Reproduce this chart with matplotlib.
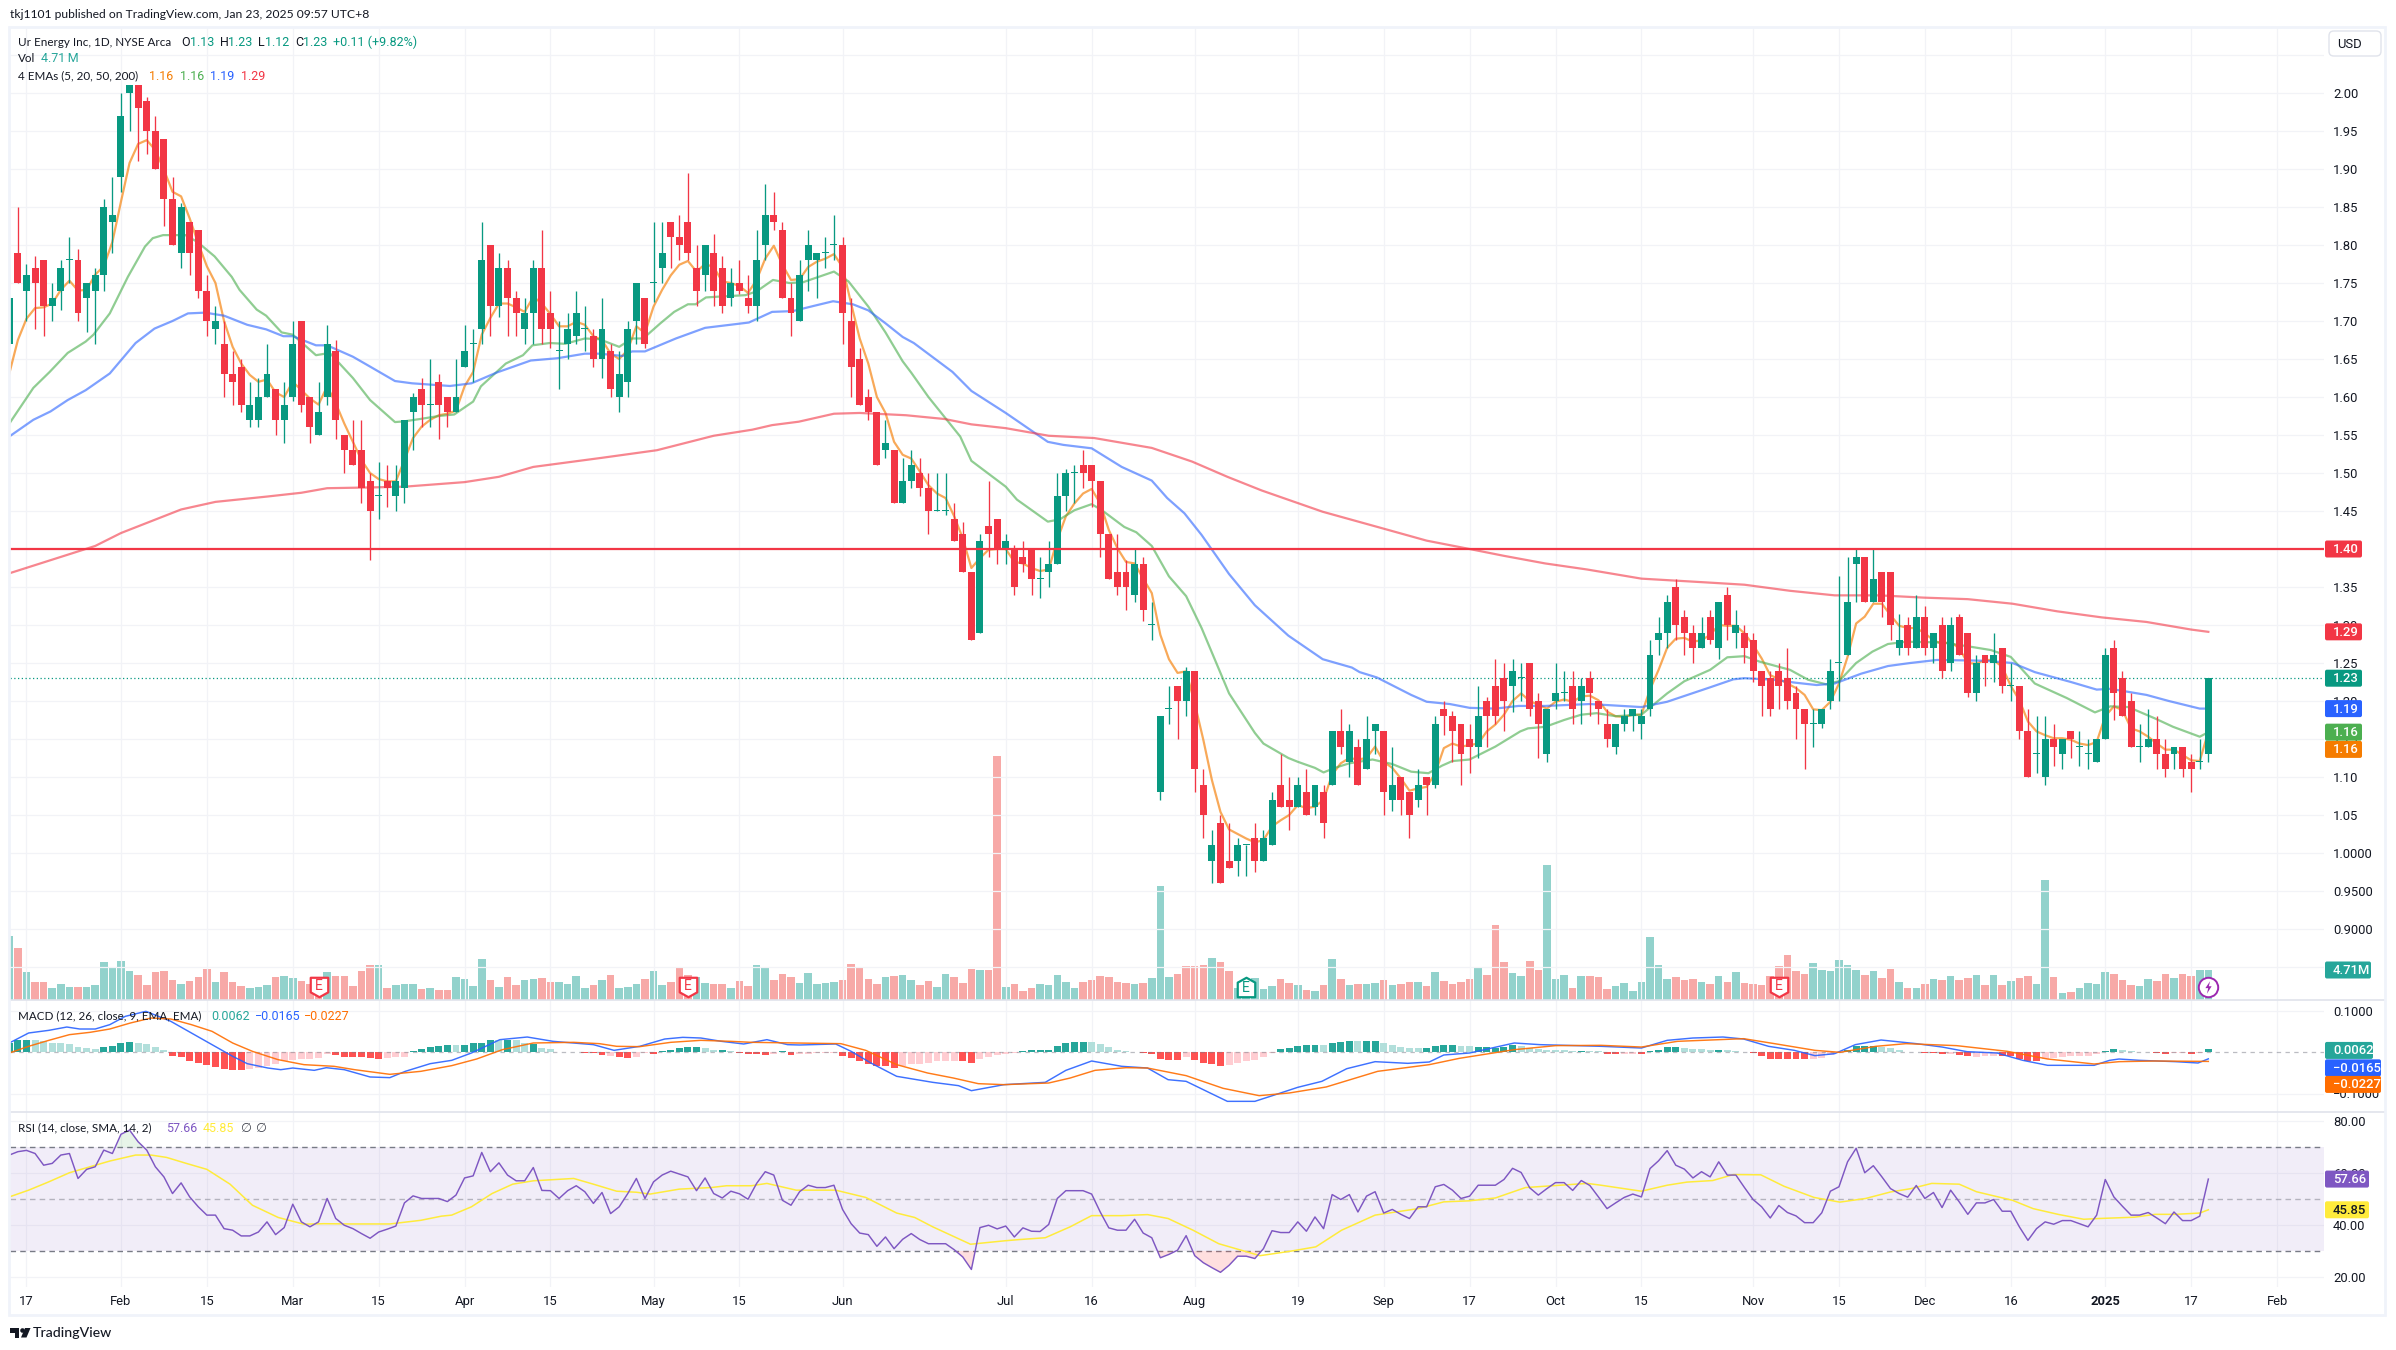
import numpy as np
import matplotlib
matplotlib.use("Agg")
import matplotlib.pyplot as plt
from matplotlib.lines import Line2D
from matplotlib.patches import Rectangle, FancyBboxPatch, Polygon
from matplotlib.path import Path

W, H = 2396, 1350
FONT = "Roboto"
LABEL_FONT = "Lato"
plt.rcParams["font.family"] = [FONT, "DejaVu Sans"]

# ---------- daily candles, Ur Energy Inc ----------
opens = [1.67,1.79,1.74,1.77,1.78,1.72,1.74,1.78,1.78,1.73,1.74,1.76,1.83,1.89,2.00,2.01,1.99,1.95,1.94,1.86,
1.79,1.83,1.82,1.74,1.69,1.67,1.63,1.64,1.57,1.57,1.60,1.61,1.57,1.60,1.70,1.60,1.55,1.60,1.66,1.55,
1.53,1.53,1.49,1.47,1.49,1.47,1.48,1.58,1.61,1.59,1.62,1.60,1.58,1.64,1.67,1.69,1.80,1.72,1.77,1.73,
1.69,1.71,1.77,1.71,1.66,1.67,1.68,1.69,1.68,1.65,1.66,1.60,1.62,1.70,1.73,1.75,1.77,1.83,1.81,1.83,
1.77,1.76,1.79,1.77,1.73,1.75,1.73,1.72,1.80,1.84,1.82,1.73,1.70,1.78,1.78,1.79,1.80,1.80,1.70,1.65,
1.60,1.58,1.53,1.53,1.46,1.49,1.50,1.48,1.45,1.45,1.44,1.42,1.37,1.29,1.43,1.44,1.40,1.40,1.39,1.40,
1.36,1.37,1.38,1.47,1.50,1.51,1.51,1.49,1.42,1.37,1.37,1.34,1.38,1.30,1.08,1.19,1.22,1.20,1.24,1.09,
0.99,1.04,0.99,0.99,1.01,1.02,0.99,1.01,1.09,1.07,1.06,1.08,1.06,1.08,1.09,1.16,1.12,1.14,1.11,1.16,
1.16,1.07,1.10,1.08,1.07,1.10,1.09,1.19,1.18,1.17,1.15,1.14,1.20,1.22,1.23,1.22,1.23,1.25,1.20,1.13,
1.20,1.21,1.22,1.20,1.23,1.20,1.17,1.14,1.17,1.18,1.17,1.19,1.28,1.29,1.35,1.31,1.29,1.27,1.31,1.27,
1.34,1.29,1.29,1.28,1.24,1.23,1.24,1.23,1.21,1.19,1.17,1.17,1.20,1.25,1.26,1.38,1.39,1.33,1.37,1.37,
1.27,1.30,1.27,1.31,1.27,1.30,1.25,1.31,1.29,1.21,1.26,1.25,1.27,1.22,1.22,1.16,1.13,1.10,1.15,1.13,
1.16,1.14,1.13,1.12,1.15,1.27,1.23,1.20,1.14,1.14,1.15,1.13,1.13,1.14,1.12,1.12,1.13]
highs = [1.73,1.85,1.775,1.785,1.78,1.75,1.78,1.81,1.795,1.75,1.77,1.86,1.89,2.00,2.01,2.01,1.995,1.97,1.94,1.89,
1.855,1.83,1.82,1.76,1.72,1.70,1.66,1.65,1.62,1.625,1.67,1.61,1.62,1.70,1.70,1.60,1.62,1.695,1.675,1.55,
1.57,1.57,1.50,1.515,1.51,1.51,1.57,1.605,1.625,1.65,1.63,1.60,1.65,1.695,1.69,1.83,1.80,1.79,1.78,1.74,
1.73,1.78,1.82,1.74,1.70,1.71,1.74,1.72,1.69,1.73,1.67,1.66,1.70,1.75,1.73,1.83,1.83,1.83,1.84,1.895,
1.80,1.80,1.815,1.785,1.77,1.78,1.76,1.82,1.88,1.87,1.83,1.75,1.78,1.82,1.79,1.81,1.84,1.81,1.73,1.665,
1.61,1.58,1.57,1.53,1.52,1.53,1.52,1.50,1.50,1.50,1.46,1.435,1.37,1.42,1.49,1.44,1.42,1.405,1.41,1.40,
1.39,1.41,1.50,1.505,1.51,1.53,1.51,1.49,1.42,1.42,1.385,1.40,1.39,1.33,1.18,1.22,1.22,1.245,1.24,1.11,
1.03,1.05,1.04,1.02,1.01,1.04,1.03,1.08,1.13,1.10,1.10,1.11,1.09,1.09,1.16,1.19,1.17,1.15,1.18,1.17,
1.16,1.14,1.10,1.08,1.11,1.10,1.18,1.20,1.187,1.17,1.17,1.22,1.205,1.255,1.25,1.255,1.25,1.25,1.21,1.19,
1.25,1.24,1.24,1.23,1.24,1.20,1.19,1.17,1.19,1.19,1.19,1.28,1.31,1.34,1.36,1.32,1.30,1.31,1.32,1.33,
1.35,1.32,1.30,1.29,1.24,1.24,1.25,1.27,1.22,1.19,1.19,1.19,1.255,1.365,1.39,1.40,1.39,1.40,1.37,1.37,
1.315,1.31,1.34,1.325,1.29,1.31,1.31,1.315,1.29,1.26,1.26,1.29,1.27,1.25,1.22,1.19,1.18,1.18,1.17,1.15,
1.16,1.16,1.15,1.15,1.27,1.28,1.24,1.21,1.17,1.19,1.18,1.15,1.14,1.14,1.13,1.15,1.23]
lows = [1.67,1.75,1.70,1.69,1.68,1.70,1.715,1.75,1.70,1.685,1.67,1.74,1.79,1.87,1.95,1.91,1.92,1.90,1.825,1.80,
1.77,1.76,1.73,1.68,1.67,1.60,1.59,1.58,1.56,1.56,1.60,1.55,1.54,1.595,1.58,1.54,1.55,1.59,1.545,1.50,
1.51,1.46,1.385,1.44,1.455,1.45,1.46,1.53,1.56,1.56,1.545,1.56,1.58,1.64,1.62,1.67,1.68,1.705,1.68,1.68,
1.67,1.67,1.67,1.665,1.61,1.65,1.67,1.66,1.64,1.625,1.60,1.58,1.60,1.67,1.665,1.725,1.75,1.77,1.78,1.78,
1.72,1.74,1.72,1.71,1.72,1.735,1.71,1.70,1.78,1.82,1.73,1.68,1.70,1.74,1.73,1.77,1.78,1.67,1.60,1.59,
1.57,1.51,1.52,1.46,1.46,1.48,1.47,1.42,1.45,1.445,1.41,1.37,1.28,1.29,1.39,1.38,1.38,1.34,1.37,1.34,
1.335,1.35,1.38,1.45,1.46,1.48,1.455,1.39,1.36,1.34,1.32,1.33,1.305,1.28,1.07,1.17,1.15,1.18,1.08,1.02,
0.96,0.96,0.98,0.97,0.97,0.975,0.99,1.01,1.06,1.03,1.06,1.05,1.05,1.02,1.09,1.13,1.10,1.09,1.11,1.13,
1.05,1.055,1.05,1.02,1.06,1.05,1.085,1.155,1.12,1.09,1.105,1.125,1.14,1.17,1.16,1.185,1.20,1.18,1.125,1.12,
1.19,1.20,1.17,1.17,1.18,1.17,1.14,1.13,1.16,1.16,1.15,1.18,1.26,1.27,1.28,1.26,1.25,1.27,1.275,1.255,
1.28,1.27,1.25,1.225,1.18,1.18,1.19,1.19,1.15,1.11,1.14,1.165,1.19,1.20,1.26,1.33,1.33,1.33,1.31,1.28,
1.26,1.26,1.27,1.26,1.25,1.23,1.24,1.26,1.205,1.20,1.22,1.225,1.21,1.20,1.15,1.10,1.105,1.09,1.115,1.11,
1.125,1.115,1.11,1.12,1.15,1.175,1.18,1.14,1.12,1.14,1.11,1.10,1.11,1.10,1.08,1.11,1.12]
closes = [1.73,1.75,1.76,1.75,1.72,1.73,1.77,1.78,1.71,1.75,1.76,1.85,1.84,1.97,2.01,1.98,1.95,1.90,1.86,1.80,
1.85,1.79,1.74,1.70,1.70,1.63,1.62,1.59,1.59,1.60,1.63,1.57,1.59,1.67,1.59,1.56,1.58,1.67,1.57,1.53,
1.51,1.48,1.45,1.47,1.48,1.49,1.57,1.60,1.59,1.59,1.59,1.58,1.60,1.66,1.67,1.78,1.72,1.77,1.73,1.71,
1.71,1.77,1.69,1.69,1.66,1.69,1.71,1.69,1.65,1.69,1.61,1.63,1.69,1.75,1.67,1.75,1.79,1.81,1.80,1.79,
1.74,1.80,1.74,1.72,1.75,1.74,1.72,1.78,1.84,1.83,1.73,1.71,1.76,1.80,1.79,1.79,1.80,1.71,1.64,1.59,
1.58,1.51,1.54,1.46,1.49,1.51,1.48,1.45,1.45,1.45,1.41,1.37,1.28,1.41,1.42,1.40,1.41,1.35,1.38,1.36,
1.36,1.38,1.47,1.50,1.50,1.50,1.49,1.42,1.36,1.35,1.35,1.38,1.32,1.30,1.18,1.19,1.20,1.24,1.11,1.05,
1.01,0.96,0.98,1.01,1.01,0.99,1.02,1.07,1.06,1.06,1.09,1.05,1.09,1.04,1.16,1.14,1.16,1.09,1.15,1.17,
1.08,1.09,1.07,1.05,1.09,1.09,1.17,1.18,1.16,1.13,1.14,1.18,1.18,1.18,1.20,1.24,1.23,1.19,1.17,1.19,
1.21,1.21,1.19,1.22,1.21,1.19,1.15,1.17,1.18,1.19,1.18,1.26,1.29,1.33,1.30,1.29,1.27,1.29,1.28,1.33,
1.30,1.30,1.27,1.24,1.22,1.19,1.22,1.20,1.19,1.17,1.17,1.19,1.24,1.25,1.33,1.39,1.33,1.36,1.33,1.30,
1.28,1.27,1.31,1.27,1.29,1.24,1.30,1.26,1.21,1.25,1.25,1.26,1.22,1.22,1.16,1.10,1.13,1.15,1.14,1.15,
1.15,1.14,1.13,1.15,1.26,1.21,1.18,1.14,1.14,1.15,1.13,1.11,1.14,1.11,1.11,1.12,1.23]

# ---------- moving averages ----------
ema5 = [1.631,1.675,1.703,1.717,1.718,1.723,1.741,1.753,1.74,1.741,1.761,1.772,1.804,1.857,1.908,1.933,1.938,1.925,1.899,1.87,
1.864,1.835,1.802,1.772,1.75,1.70,1.666,1.644,1.629,1.62,1.623,1.606,1.60,1.62,1.609,1.598,1.59,1.614,1.592,1.565,
1.541,1.517,1.50,1.492,1.489,1.489,1.517,1.546,1.561,1.57,1.576,1.578,1.582,1.614,1.633,1.682,1.704,1.723,1.723,1.718,
1.712,1.732,1.723,1.709,1.693,1.693,1.699,1.695,1.68,1.675,1.657,1.65,1.662,1.693,1.684,1.719,1.741,1.76,1.774,1.779,
1.765,1.775,1.771,1.752,1.75,1.746,1.737,1.754,1.782,1.799,1.774,1.754,1.755,1.771,1.778,1.782,1.788,1.771,1.723,1.677,
1.644,1.60,1.579,1.541,1.524,1.519,1.502,1.484,1.473,1.467,1.443,1.414,1.375,1.388,1.399,1.40,1.40,1.383,1.381,1.375,
1.371,1.373,1.412,1.443,1.46,1.473,1.479,1.46,1.425,1.401,1.383,1.381,1.361,1.342,1.287,1.255,1.237,1.239,1.197,1.149,
1.096,1.054,1.031,1.025,1.019,1.014,1.017,1.035,1.043,1.05,1.063,1.059,1.061,1.07,1.103,1.118,1.125,1.123,1.125,1.14,
1.12,1.112,1.098,1.082,1.085,1.087,1.105,1.138,1.144,1.14,1.142,1.144,1.16,1.169,1.182,1.20,1.21,1.20,1.195,1.19,
1.199,1.202,1.199,1.206,1.207,1.201,1.186,1.18,1.179,1.182,1.182,1.215,1.241,1.27,1.282,1.283,1.278,1.28,1.287,1.30,
1.299,1.299,1.289,1.274,1.256,1.234,1.229,1.223,1.217,1.208,1.189,1.188,1.199,1.223,1.258,1.302,1.311,1.328,1.328,1.313,
1.299,1.296,1.296,1.289,1.28,1.275,1.278,1.269,1.25,1.249,1.254,1.254,1.245,1.22,1.201,1.173,1.16,1.155,1.151,1.151,
1.149,1.144,1.142,1.146,1.18,1.193,1.188,1.164,1.16,1.153,1.144,1.136,1.136,1.129,1.122,1.121,1.16]

ema20_x = [0,2.8,4.7,6.8,8.9,9.8,11.7,13.8,15.8,16.7,17.9,20.5,21.9,23.9,25.9,26.8,28.8,29.9,31.7,33,35.7,37.3,40,42,44.9,46,47.8,50,51.8,54,54.9,57.8,59.8,60.9,62.9,64.7,67,68.7,
71,72.5,73.8,75.8,77.4,79,79.9,81.1,82.5,85.7,87,88.9,90.8,92.4,93.7,96,97.7,100,102,104,105,107,109,110.7,112,116,117.3,120.9,122.3,124,126,127.2,129.8,131.2,
133,135,137,138.8,142,145,146,148.9,150,152,153,154.3,156,158.7,161,163.2,165.2,166.8,168,170,173,175.9,176.8,178.8,181,183,184.8,187,190,193,195,
198,200,202,203.7,207.3,209.4,211.5,213,215,216.9,218.7,220.8,225,228,230.7,233,235.8,239.5,242.8,244.6,246.7,249.8,251.9,255,256]
ema20_y = [1.565,1.612,1.633,1.658,1.673,1.682,1.71,1.758,1.798,1.809,1.813,1.813,1.804,1.785,1.758,1.741,1.715,1.707,1.685,1.682,1.655,1.658,1.625,1.596,1.567,1.568,1.571,1.575,1.577,1.594,1.614,1.644,1.655,1.668,1.671,1.67,1.677,1.676,
1.666,1.677,1.677,1.697,1.712,1.722,1.722,1.731,1.732,1.734,1.739,1.754,1.75,1.751,1.756,1.765,1.752,1.719,1.685,1.647,1.632,1.60,1.572,1.548,1.516,1.482,1.465,1.436,1.439,1.451,1.459,1.451,1.429,1.422,
1.404,1.364,1.338,1.296,1.21,1.158,1.144,1.125,1.12,1.112,1.106,1.112,1.118,1.123,1.117,1.107,1.105,1.115,1.121,1.123,1.14,1.16,1.164,1.166,1.175,1.182,1.184,1.18,1.182,1.21,1.226,
1.241,1.2575,1.259,1.252,1.241,1.228,1.222,1.226,1.25,1.265,1.275,1.278,1.277,1.272,1.267,1.258,1.223,1.204,1.185,1.193,1.192,1.177,1.166,1.153,1.159]

ema50_x = [0,2.8,4.8,6.8,8.9,11.7,14.7,16.9,19,20.8,22.8,25,27.7,29.9,31.9,33,35.7,37,40,42,44.9,46.9,51.3,53.8,56.7,60.7,63.8,67,68.7,
71.4,72.5,74,77.6,81,86.1,88.8,91.2,93.7,95.9,98.2,100,102,104,105.3,109.8,112,116,120.9,122.7,126,129.5,133,134.8,136.8,138.8,142,145,148.9,152.9,156.3,157.2,159.2,163.2,165,167.7,170,173,175.7,178.8,184,190,193,198,200.7,
202,205.3,208,210.4,212.5,215.6,218.7,221.3,224.4,230,233.2,235.8,240,243,244.6,248.8,251.4,255,256]
ema50_y = [1.548,1.57,1.581,1.596,1.609,1.631,1.671,1.69,1.70,1.71,1.711,1.707,1.695,1.689,1.68,1.68,1.668,1.668,1.653,1.64,1.621,1.618,1.6145,1.618,1.632,1.648,1.651,1.657,1.657,
1.654,1.66,1.66,1.677,1.691,1.698,1.712,1.713,1.72,1.726,1.722,1.714,1.697,1.679,1.671,1.633,1.608,1.579,1.541,1.537,1.5325,1.508,1.49,1.467,1.447,1.4185,1.367,1.326,1.286,1.255,1.244,1.238,1.231,1.208,1.199,1.196,1.191,1.19,1.1935,1.1935,1.196,1.192,1.199,1.218,1.2285,
1.23,1.228,1.224,1.221,1.223,1.236,1.246,1.25,1.254,1.253,1.25,1.238,1.225,1.215,1.216,1.208,1.20,1.19,1.19]

ema200_x = [0,10,13,20,24,30,34,37,42,46,53,57,61,69,75.4,82,86.5,88.8,91.9,96,99,104.4,108.9,112,116,121,126.3,133,137.7,141.8,145.8,152.9,159.6,165,170,174,178.8,183.7,190,197.6,202,207.3,212.5,217.7,222.9,228,233.2,238.4,243.6,248.8,254,256]
ema200_y = [1.368,1.404,1.421,1.452,1.462,1.469,1.474,1.48,1.481,1.482,1.488,1.495,1.508,1.52,1.53,1.549,1.557,1.563,1.5675,1.578,1.579,1.576,1.571,1.564,1.559,1.549,1.546,1.533,1.515,1.495,1.477,1.449,1.428,1.411,1.40,1.391,1.381,1.373,1.361,1.356,1.353,1.345,1.339,1.339,1.336,1.334,1.328,1.318,1.31,1.304,1.294,1.291]

# ---------- volume, millions of shares ----------
volume = [10.05,8.2,4.4,2.8,2.8,1.9,2.5,2.0,2.0,2.0,2.4,6.0,5.0,6.1,4.6,3.9,2.4,4.4,4.6,3.1,
2.5,3.0,3.6,4.9,2.8,4.4,2.8,2.2,1.9,2.0,2.4,3.6,3.8,3.5,3.0,2.5,3.0,4.4,3.8,3.8,
2.2,4.6,5.5,5.5,1.9,2.4,2.5,2.5,1.7,1.9,1.6,1.6,3.6,3.3,2.2,6.4,3.1,2.0,3.6,2.4,
3.1,3.3,3.5,2.8,2.8,2.5,3.8,1.9,2.4,3.1,3.9,1.9,2.0,2.5,3.3,4.6,2.4,2.8,5.0,3.9,
3.6,2.7,2.5,2.5,1.9,3.0,2.2,5.5,5.0,3.1,4.1,3.6,
2.7,4.2,2.5,2.7,2.8,3.1,5.7,5.0,3.3,2.5,3.6,3.8,3.9,3.1,2.4,3.0,2.0,4.1,3.6,2.7,
4.9,4.7,4.7,38.3,2.0,2.5,1.4,1.9,2.5,2.4,3.9,2.8,1.9,2.8,3.1,3.8,3.6,2.8,2.7,2.5,
2.7,3.5,17.9,3.6,4.1,5.3,5.3,5.5,6.6,6.0,4.6,1.9,3.1,3.4,1.7,2.2,3.3,2.7,2.4,1.6,
1.4,2.4,6.4,3.3,2.4,2.5,2.5,2.7,3.1,2.4,2.5,2.8,2.8,2.2,4.4,3.0,2.5,2.8,3.3,5.0,
3.9,11.8,6.0,4.2,3.8,6.1,4.7,21.2,3.3,3.9,1.9,3.8,3.8,3.6,
1.7,2.2,2.7,1.4,2.8,9.9,5.5,3.3,3.6,3.1,3.3,2.8,2.5,3.8,2.8,4.4,2.7,2.5,2.4,3.8,
5.3,7.1,4.6,4.1,5.8,4.7,4.6,6.3,5.5,4.7,3.9,4.6,3.5,4.9,2.8,1.9,1.9,2.5,3.3,3.1,
3.8,3.1,3.5,3.9,2.4,3.9,2.4,3.0,3.5,3.8,2.5,18.8,3.6,1.1,1.3,1.9,2.7,2.5,4.4,4.1,
3.1,2.4,2.2,3.3,3.0,4.1,3.5,4.1,3.8,4.7,4.71]
volume_dir = ("grgrrgggrg" "gggggrrrrr" "grrrgrrrgg" "grggrrrgrr" "rrrgrgggrg" "rrggggrgrr" "ggrrggggrg" "rgggrggrrr" "ggrrgrrggr" "rr"
 "gggggrrrrr" "grggrrggrr" "rgrrgrrrgg" "gggrrrrrrg" "rgggrrrrgr" "rgggggrrgr" "grgrgrggrg" "rrgrgrrrrg" "rrrggrrggg" "rgrr"
 "rgggggggrr" "rgrgrgrrrr" "rrrrgggggg" "rgrrgrgrgr" "grrgrgrgrr" "ggrgrggggr" "rrggrrgrrg" "g")

# ---------- MACD (12, 26, close, 9) ----------
macd_x = [0,2.25,4.6,6.7,8.2,10,11.7,13.5,15.9,18.8,21.2,23.6,26,27.7,30.1,31.6,33,35.5,36.9,39,42,44.3,46.1,49,51.5,53.8,57.1,60.3,63.3,68,70.4,73.4,76.3,78.4,80.5,82.9,85.5,88.2,90.6,
92,96.2,98,100.3,103.3,107.5,110.5,112,115.8,120.6,123,126,129.5,132.5,134.9,137,139,141.8,145,147.4,150,152.8,155.7,159,162.8,165.3,167,170,175.2,178.2,185.3,
190,193,196,199.5,201.9,204.8,207.8,210.2,212.5,214.9,217.9,222,225,227.9,231.4,234.4,237.3,242.7,244.5,245.6,248,252.2,254.8,256]
macd_y = [.0217,.0458,.0522,.0602,.0554,.0554,.0659,.0859,.098,.0739,.0458,.0177,-.0104,-.0281,-.0386,-.0426,-.0386,-.0442,-.0378,-.0426,-.0602,-.0618,-.0466,-.0281,-.0201,-.0024,.0297,.0361,.0257,.0177,.004,.0137,.0313,.0353,.0337,.0257,.0193,.0297,.0177,
.0169,.0193,.0016,-.0265,-.0586,-.0731,-.0811,-.0932,-.0787,-.0731,-.0442,-.0217,-.0345,-.0386,-.0667,-.0707,-.0908,-.1189,-.1189,-.1028,-.0851,-.0707,-.0402,-.0233,-.0273,-.0241,-.0072,-.0024,.0217,.0177,.0137,
.0096,.0281,.0337,.0361,.0313,.0137,.004,-.0088,-.004,.0177,.0289,.0201,.012,.0008,-.0024,-.0201,-.0321,-.0321,-.0201,-.0169,-.0201,-.0233,-.0265,-.0165]
signal_x = [0,2.25,4.6,7,9.4,11.7,14.1,16.5,18.8,21.2,23.6,26,28.3,31.3,34.3,37.8,40.2,44.3,47.9,51.5,54.4,57.4,61,65.7,68.7,70.7,73.4,77,80.5,84,86.4,91.6,
96.8,99.7,103.3,106.9,109.9,112.8,115.8,121,123.5,126.4,130,132.5,137,141.3,145.5,149,153.3,159.3,165.3,168.8,175.2,180,185.3,
190,194.2,201.9,205.5,210.2,213.1,217.3,220.8,226.7,232.6,237.3,242.7,245.6,249.8,256]
signal_y = [-.0024,.0137,.0281,.0418,.0474,.0554,.0699,.0819,.0795,.0659,.0498,.0217,.0016,-.0185,-.0305,-.0345,-.0426,-.0538,-.0466,-.0329,-.0169,.0056,.0217,.0233,.0201,.0137,.0129,.0233,.0281,.0257,.0233,.0217,
.0201,.004,-.0305,-.0506,-.0627,-.0763,-.0787,-.0747,-.0627,-.0442,-.0378,-.0386,-.057,-.0875,-.1052,-.0988,-.0843,-.0466,-.0305,-.0153,.0056,.0153,.0161,
.012,.0257,.0321,.0201,.004,-.0008,.0137,.0201,.0153,.0016,-.0169,-.0289,-.0233,-.0217,-.0227]
# histogram in thousandths
hist_milli = [21.7,28,30,29,26,22,21,20,13,10,8,11,14,21,25,22,20,13,6,-10,
-13,-22,-27,-31,-35,-40,-43,-43,-42,-39,-34,-29,-22,-19,-18,-18,-14,-4,-8,-11,
-11,-11,-14,-16,-14,-13,-11,2,8,11,14,16,16,18,21,21,30,28,29,29,
22,19,10,8,1,-1,-1,-2,-3,-7,-10,-12,-14,-11,-2,-6,2,5,10,11,
11,10,6,6,2,-3,-4,-6,-8,-5,3,-7,
-6,-4,-3,-2,-2,-9,-15,-22,-28,-33,-34,-38,-34,-30,-28,-27,-22,-21,-21,-22,
-26,-18,-11,-7,-4,-2,2,4,5,6,15,21,25,25,25,20,11,6,2,1,
-3,-6,-16,-20,-20,-12,-20,-26,-30,-33,-32,-26,-21,-20,-11,-2,7,10,14,16,
18,18,22,25,27,26,26,26,21,16,11,9,9,10,14,16,16,14,14,13,
13,10,12,16,15,10,8,6,6,6,2,3,2,2,
-6,-6,-4,-5,-6,2,6,11,13,10,8,8,6,6,5,3,1,-2,-10,-16,
-16,-16,-17,-18,-18,-14,-8,1,6,14,14,15,13,10,5,1,1,-2,-3,-6,
-4,-8,-10,-11,-10,-10,-10,-10,-16,-21,-22,-16,-14,-12,-10,-10,-9,-6,3,8,
6,2,1,1,-2,-4,-3,-3,-4,-2,6.2]
hist_shade = ("SSSLLLLLLL" "LSSSSLLLLR" "RRRRRRRRPP" "PPPPPPPPRR" "RRRRPPPSSS" "SSLSSSSLSL" "LSLLLPPRRR" "PRRPPRSSSS" "SLLSLRRRRP" "SR"
 "PPPPPRRRRR" "RRPPPPPPPR" "RPPPPPSSSS" "SSSSLLLLLL" "RRRRRPRRRR" "PPPPPPSSSS" "SLSSSLSSLL" "LLLSSSSLLS" "SSSSLLLLLL" "LSLL"
 "RRPPRSSSSL" "LLLSLLLRRR" "RRRRPPPSSS" "SSLLLLLRRR" "PRRPPPRRRR" "RPPPPPPPSS" "LLLLRRPPRP" "S")

# ---------- RSI (14) and its moving average ----------
rsi = [66.9,68.2,68.7,67.5,63.0,63.7,66.9,67.5,57.9,61.4,62.4,68.8,67.5,74.9,76.5,72.0,68.8,62.4,58.5,52.1,
56.2,50.8,47.0,43.8,43.8,38.6,38.0,35.8,35.8,37.3,41.2,36.3,39.0,48.0,41.2,39.3,41.2,50.2,42.5,39.9,
38.6,36.7,34.9,37.3,38.4,39.6,48.5,51.2,50.2,50.2,50.2,49.0,51.5,58.1,58.9,67.9,60.5,63.9,59.2,57.0,
57.0,62.1,53.3,53.2,50.2,53.2,55.1,52.8,48.3,52.5,44.4,47.0,52.1,57.9,50.2,56.6,59.2,60.7,59.6,58.5,
53.2,58.1,52.1,50.4,53.0,52.0,49.9,56.0,60.5,59.2,49.5,47.6,
52.8,55.3,54.4,54.4,55.3,46.0,40.5,36.9,36.3,31.8,35.4,30.9,34.5,36.7,34.4,32.8,32.8,32.8,30.5,27.7,
22.9,39.0,39.9,38.5,39.6,35.4,38.9,37.6,37.5,40.2,50.2,53.2,53.2,53.2,51.9,45.0,38.9,38.0,38.0,42.2,
36.9,35.1,27.4,28.7,30.3,35.9,28.2,25.5,23.6,21.8,24.5,28.0,28.0,27.1,30.9,37.8,37.1,37.1,41.2,37.6,
43.1,38.6,51.7,49.8,51.7,45.0,51.1,52.8,44.6,46.0,44.1,42.5,47.0,47.0,54.7,55.6,53.4,50.2,51.1,55.3,
55.3,55.3,57.5,61.8,60.2,54.3,51.5,54.0,56.3,56.3,53.3,57.1,55.2,50.8,
46.3,48.5,50.6,51.9,50.8,61.7,64.7,68.6,63.0,61.5,58.1,60.5,58.5,64.3,59.2,59.2,54.4,49.8,47.0,42.7,
47.5,44.8,43.5,40.9,40.9,44.7,53.0,54.7,64.3,69.5,60.1,62.8,58.5,54.0,52.1,50.7,55.2,50.2,52.5,46.7,
53.4,48.9,44.1,48.5,48.5,49.8,45.3,45.3,39.3,34.1,38.6,41.2,40.3,41.7,41.7,40.5,39.3,43.8,57.5,50.8,
47.2,43.8,43.8,44.8,42.7,40.5,45.0,41.7,41.7,43.4,57.66]
rsi_ma_x = [0,2.25,4.6,7,9.4,11.7,14.7,16.5,18.3,20.6,23,25.7,28.3,31.3,34.3,36.6,39.6,44.3,47.9,50.3,51.5,53.8,56.2,58.6,61,65.7,68,70.7,73,74.6,78,81.7,83.5,86.4,88.2,91.6,
96.2,99.7,103.3,105.4,107.5,111.9,115.8,117.6,120.6,123.5,126,129.5,132.5,134.9,137.8,140.8,143.2,145.6,149.1,152.1,155.1,159,164,167,170,173,176.5,180.1,183.7,185.3,
190,193,195.3,198.3,200.7,203.9,206.6,210.1,213.1,216.1,219,221.4,223.8,227,229,233.2,235.6,238.5,241.5,243.3,247.4,249.8,252.2,255,256]
rsi_ma_y = [50.8,53.4,56.6,60.1,62.4,64.6,66.9,66.9,66.0,63.7,61.4,55.7,47.6,42.9,40.3,40.5,40.4,40.4,41.8,43.4,43.8,47.0,52.1,55.7,57.0,57.9,55.7,53.0,52.6,51.9,53.8,54.4,55.1,55.1,56.0,53.4,
53.4,50.6,44.6,42.9,39.3,32.6,33.9,34.4,35.1,39.3,43.6,43.6,44.0,42.5,38.0,32.8,30.5,28.2,29.9,31.6,38.0,43.8,46.3,48.9,49.3,50.4,54.4,55.2,56.0,55.3,
53.0,55.3,56.5,57.1,59.4,59.3,54.9,50.6,48.8,50.2,52.7,54.0,56.0,55.7,52.8,49.5,46.3,44.1,42.2,42.5,43.0,44.1,44.1,44.6,45.85]

# ---------- axis labels: bar position of each calendar tick ----------
date_ticks = [2,13,23,33,43,53,63,75,85,97,116,126,138,150,160,170,180,190,203,213,223,233,244,254,264]
date_labels = ["17","Feb","15","Mar","15","Apr","15","May","15","Jun","Jul","16","Aug","19","Sep","17","Oct","15","Nov","15","Dec","16","2025","17","Feb"]
earnings_bars = [36, 79, 206]
earnings_beat_bars = [144]
resistance = 1.40

INK = "#131722"
GREEN, RED = "#089981", "#F23645"
GRID = "#F2F3F7"
SEP = "#E0E3EB"
FRAME = "#F0F3FA"

def rect_px(x0, y0, x1, y1):
    """Figure-fraction rectangle from pixel edges measured from the top left."""
    return [x0 / W, 1 - y1 / H, (x1 - x0) / W, (y1 - y0) / H]

fig = plt.figure(figsize=(W / 100, H / 100), dpi=100, facecolor="white")
LEFT, RIGHT = 10, 2324
BAR_X0, BAR_DX = 9.3, 8.59
xlim = ((LEFT - BAR_X0) / BAR_DX, (RIGHT - BAR_X0) / BAR_DX)

ax_vol = fig.add_axes(rect_px(LEFT, 27, RIGHT, 1000), zorder=0)
ax = fig.add_axes(rect_px(LEFT, 27, RIGHT, 1000), zorder=1)
ax_macd = fig.add_axes(rect_px(LEFT, 1000, RIGHT, 1112), zorder=1)
ax_rsi = fig.add_axes(rect_px(LEFT, 1112, RIGHT, 1287), zorder=1)

TICK_SIZE = 9.4
LABEL_SIZE = 8.4
HEADER_SIZE = 8.7
for a in (ax, ax_macd, ax_rsi):
    a.set_xlim(*xlim)
    a.patch.set_alpha(0)
    for s in a.spines.values():
        s.set_visible(False)
    a.yaxis.tick_right()
    a.tick_params(axis="y", which="both", length=0, pad=6.5, labelsize=TICK_SIZE, labelcolor=INK)
    a.tick_params(axis="x", which="both", length=0, labelbottom=False)
    a.set_xticks(date_ticks)
    a.grid(True, axis="x", color=GRID, lw=0.9)
    a.grid(True, axis="y", which="both", color=GRID, lw=0.9)
    a.set_axisbelow(True)

# ---------- price pane ----------
ax.set_ylim(2.00 - (1000 - 93) / 760, 2.00 + (93 - 27) / 760)
price_ticks = [round(0.90 + 0.05 * i, 2) for i in range(23)]
ax.set_yticks(price_ticks)
ax.set_yticklabels([f"{p:.4f}" if p < 1.05 else f"{p:.2f}" for p in price_ticks])
ax.set_yticks([0.85, 2.05], minor=True)

idx = np.arange(len(closes))
o, h, l, c = map(np.array, (opens, highs, lows, closes))
cols = np.where(c >= o, GREEN, RED)

ax.plot(np.arange(len(ema5)), ema5, color="#F57C00", alpha=0.65, lw=1.6, zorder=2, solid_joinstyle="round")
ax.plot(ema20_x, ema20_y, color="#4CAF50", alpha=0.62, lw=1.6, zorder=2)
ax.plot(ema50_x, ema50_y, color="#2962FF", alpha=0.6, lw=1.6, zorder=2)
ax.plot(ema200_x, ema200_y, color=RED, alpha=0.6, lw=1.6, zorder=2)

ax.axhline(closes[-1], color=GREEN, lw=0.9, ls=(0, (1, 2)), zorder=1.5)
ax.vlines(idx, l, h, colors=cols, lw=0.95, zorder=3)
ax.bar(idx, np.maximum(np.abs(c - o), 0.0014), bottom=np.minimum(o, c), width=0.81, color=cols, zorder=3, linewidth=0)
ax.axhline(resistance, color=RED, lw=1.6, zorder=4)

# ---------- volume, overlaid on the lower part of the price pane ----------
ax_vol.set_xlim(*xlim)
ax_vol.set_ylim(0, (1000 - 27) / 6.37)
ax_vol.axis("off")
vol_cols = ["#92D2CC" if d == "g" else "#F7A9A7" for d in volume_dir]
ax_vol.bar(np.arange(len(volume)), volume, width=0.88, color=vol_cols, linewidth=0, zorder=1)

tag_path = Path([(-0.9, 1), (0.9, 1), (0.9, -0.5), (0, -1), (-0.9, -0.5), (-0.9, 1)], closed=True)
tag_up_path = Path([(-0.9, -1), (0.9, -1), (0.9, 0.5), (0, 1), (-0.9, 0.5), (-0.9, -1)], closed=True)
MARK_Y = 2.05
for bar in earnings_bars:
    ax_vol.plot([bar], [MARK_Y], marker=tag_path, ms=14, mfc="white", mec=RED, mew=1.6, zorder=5)
    ax_vol.text(bar, MARK_Y + 0.2, "E", color=RED, fontsize=10, ha="center", va="center", zorder=6)
for bar in earnings_beat_bars:
    ax_vol.plot([bar], [MARK_Y], marker=tag_up_path, ms=14, mfc="white", mec=GREEN, mew=1.6, zorder=5)
    ax_vol.text(bar, MARK_Y - 0.2, "E", color=GREEN, fontsize=10, ha="center", va="center", zorder=6)
bolt = Path([(0.25, 1), (-0.5, -0.1), (-0.05, -0.1), (-0.25, -1), (0.5, 0.2), (0.05, 0.2), (0.25, 1)], closed=True)
ax_vol.plot([idx[-1]], [MARK_Y], marker="o", ms=14, mfc="white", mec="#9C27B0", mew=1.4, zorder=5)
ax_vol.plot([idx[-1]], [MARK_Y], marker=bolt, ms=9, mfc="#9C27B0", mec="none", zorder=6)

# ---------- MACD pane ----------
ax_macd.set_ylim((1052 - 1112) / 415, (1052 - 1000) / 415)
ax_macd.set_yticks([0.1, -0.1])
ax_macd.set_yticklabels(["0.1000", "\u22120.1000"])
shade = {"S": "#26A69A", "L": "#B2DFDB", "R": "#FF5252", "P": "#FFCDD2"}
ax_macd.bar(np.arange(len(hist_milli)), np.array(hist_milli) / 1000, width=0.81,
            color=[shade[s] for s in hist_shade], linewidth=0, zorder=2)
ax_macd.axhline(0, color="#787B86", alpha=0.5, lw=0.9, ls=(0, (3.5, 3.5)), zorder=3)
ax_macd.plot(macd_x, macd_y, color="#2962FF", lw=1.05, alpha=0.9, zorder=4)
ax_macd.plot(signal_x, signal_y, color="#FF6D00", lw=1.05, alpha=0.9, zorder=4)

# ---------- RSI pane ----------
ax_rsi.set_ylim(20 - (1287 - 1277) / 2.6, 80 + (1121 - 1112) / 2.6)
ax_rsi.set_yticks([80, 60, 40, 20])
ax_rsi.set_yticklabels(["80.00", "60.00", "40.00", "20.00"])
ax_rsi.axhspan(30, 70, color="#7E57C2", alpha=0.1, lw=0, zorder=1)
ax_rsi.axhline(70, color="#787B86", lw=1.0, ls=(0, (4, 3)), zorder=2)
ax_rsi.axhline(30, color="#787B86", lw=1.0, ls=(0, (4, 3)), zorder=2)
ax_rsi.axhline(50, color="#787B86", alpha=0.5, lw=1.0, ls=(0, (4, 3)), zorder=2)
rsi_arr = np.array(rsi)
rsi_idx = np.arange(len(rsi))
ax_rsi.fill_between(rsi_idx, rsi_arr, 70, where=rsi_arr > 70, interpolate=True, color="#4CAF50", alpha=0.13, lw=0, zorder=2)
ax_rsi.fill_between(rsi_idx, rsi_arr, 30, where=rsi_arr < 30, interpolate=True, color="#FF5252", alpha=0.18, lw=0, zorder=2)
ax_rsi.plot(rsi_ma_x, rsi_ma_y, color="#FFEB3B", lw=1.1, zorder=3)
ax_rsi.plot(rsi_idx, rsi_arr, color="#7E57C2", lw=1.05, zorder=4)

ax_rsi.tick_params(axis="x", labelbottom=True, labelsize=TICK_SIZE, labelcolor=INK, pad=5.5)
ax_rsi.set_xticklabels(date_labels)
for lab, txt in zip(ax_rsi.get_xticklabels(), date_labels):
    if txt == "2025":
        lab.set_fontweight("bold")

fx = lambda x: x / W
fy = lambda y: 1 - y / H

# ---------- badges on the price scale ----------
def badge(a, value, text, face, width, tcolor="white", dy=0):
    """Tag on the scale at a value's height; dy shifts it down to clear its neighbour."""
    y_fig = a.transAxes.inverted().transform(a.transData.transform((0, value)))[1]
    box = a.get_position()
    y = box.y0 + y_fig * box.height - dy / H
    fig.add_artist(FancyBboxPatch((fx(2325), y - 8.5 / H), width / W, 17 / H, transform=fig.transFigure,
                                  boxstyle="round,pad=0,rounding_size=0.0008", mutation_aspect=W / H,
                                  fc=face, ec="none", zorder=40))
    fig.text(fx(2333), y - 0.5 / H, text, fontsize=TICK_SIZE, color=tcolor, fontweight="medium",
             ha="left", va="center", zorder=41)

badge(ax, resistance, "1.40", RED, 37)
badge(ax, ema200_y[-1], "1.29", RED, 37)
badge(ax, closes[-1], "1.23", GREEN, 37)
badge(ax, ema50_y[-1], "1.19", "#2962FF", 37)
badge(ax, ema20_y[-1], "1.16", "#4CAF50", 37)
badge(ax, ema5[-1], "1.16", "#F57C00", 37, dy=18)
badge(ax_vol, volume[-1], "4.71M", "#26A69A", 46)
badge(ax_macd, hist_milli[-1] / 1000, "0.0062", "#26A69A", 48, dy=1)
badge(ax_macd, macd_y[-1], "\u22120.0165", "#2962FF", 56, dy=9)
badge(ax_macd, signal_y[-1], "\u22120.0227", "#FF6D00", 56, dy=23)
badge(ax_rsi, rsi[-1], "57.66", "#7E57C2", 44)
badge(ax_rsi, rsi_ma_y[-1], "45.85", "#FFEB3B", 44, tcolor=INK)

# ---------- frame, separators and header furniture ----------
fig.add_artist(Rectangle((fx(9), fy(1315)), (2385 - 9) / W, (1315 - 27) / H, transform=fig.transFigure,
                         fc="none", ec=FRAME, lw=2.0, zorder=20))
for y in (1000, 1112):
    fig.add_artist(Line2D([fx(10), fx(2385)], [fy(y), fy(y)], color=SEP, lw=1.2, zorder=19))
fig.add_artist(FancyBboxPatch((fx(2329), fy(56)), 52 / W, 25 / H, transform=fig.transFigure,
                              boxstyle="round,pad=0,rounding_size=0.002", fc="white", ec=SEP, lw=1.0, zorder=21,
                              mutation_aspect=W / H))
fig.text(fx(2337), fy(44), "USD", fontsize=TICK_SIZE, color=INK, va="center", ha="left", zorder=22)

def run(y, parts):
    for x, s, col in parts:
        family = LABEL_FONT if col == INK and len(s) > 1 else FONT
        fig.text(fx(x), fy(y), s, fontsize=LABEL_SIZE if family == LABEL_FONT else TICK_SIZE - 0.4, color=col,
                 family=[family, "DejaVu Sans"], va="center", ha="left", zorder=30)

fig.text(fx(10), fy(15), "tkj1101 published on TradingView.com, Jan 23, 2025 09:57 UTC+8",
         fontsize=HEADER_SIZE, family=[LABEL_FONT, "DejaVu Sans"], color=INK, va="center", ha="left")
run(42, [(18, "Ur Energy Inc, 1D, NYSE Arca", INK), (181, "O", INK), (190, "1.13", GREEN), (220, "H", INK), (228, "1.23", GREEN),
         (258, "L", INK), (265, "1.12", GREEN), (295, "C", INK), (303, "1.23", GREEN), (333, "+0.11 (+9.82%)", GREEN)])
run(59, [(18, "Vol", INK), (41, "4.71\u2009M", "#26A69A")])
run(76, [(18, "4 EMAs (5, 20, 50, 200)", INK), (149, "1.16", "#F57C00"), (180, "1.16", "#4CAF50"), (210, "1.19", "#2962FF"), (241, "1.29", RED)])
run(1016, [(18, "MACD (12, 26, close, 9, EMA, EMA)", INK), (211, "0.0062", "#26A69A"), (255, "\u22120.0165", "#2962FF"), (304, "\u22120.0227", "#FF6D00")])
run(1128, [(18, "RSI (14, close, SMA, 14, 2)", INK), (166, "57.66", "#7E57C2"), (203, "45.85", "#FFEB3B"), (240, "\u2205", "#434651"), (255, "\u2205", "#434651")])

# TradingView wordmark
logo_t = Polygon([(fx(10), fy(1328)), (fx(19), fy(1328)), (fx(19), fy(1337.5)), (fx(14.5), fy(1337.5)), (fx(14.5), fy(1332.5)), (fx(10), fy(1332.5))],
                 closed=True, transform=fig.transFigure, fc=INK, ec="none")
logo_s = Polygon([(fx(25), fy(1328)), (fx(30.5), fy(1328)), (fx(26.5), fy(1337.5)), (fx(21), fy(1337.5))],
                 closed=True, transform=fig.transFigure, fc=INK, ec="none")
fig.add_artist(logo_t)
fig.add_artist(logo_s)
fig.add_artist(Line2D([fx(21.8)], [fy(1330.3)], marker="o", ms=3.3, color=INK, mew=0, transform=fig.transFigure))
fig.text(fx(33), fy(1333), "TradingView", fontsize=10.2, family=[LABEL_FONT, "DejaVu Sans"], color=INK, va="center", ha="left", fontweight="medium")

fig.savefig("out.png", dpi=100, facecolor="white")
